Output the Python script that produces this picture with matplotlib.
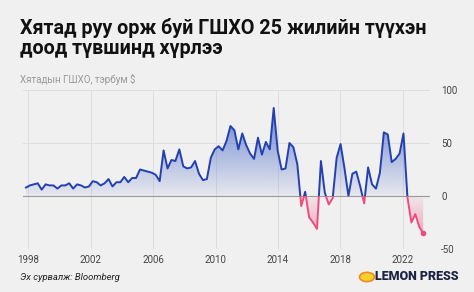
import matplotlib.pyplot as plt
import numpy as np
from matplotlib.patches import Rectangle, Circle
from matplotlib.path import Path
from matplotlib.patches import PathPatch

plt.rcParams['font.family'] = ['Roboto', 'DejaVu Sans']

# quarterly FDI into China, bn $
fdi = [8, 10, 11, 12, 6, 11, 10, 10, 7, 10, 10, 12, 7, 11, 10, 8, 9, 14, 13, 10,
       12, 16, 9, 13, 13, 18, 13, 17, 17, 25, 24, 23, 22, 20, 14, 43, 26, 34, 33, 44,
       28, 26, 27, 33, 21, 15, 16, 36, 44, 47, 43, 52, 66, 62, 44, 59, 48, 40, 35, 55,
       39, 51, 44, 83, 43, 25, 26, 50, 46, 30, -9.5, 4, -20, -25, -31, 33, 3, -8, -2, 36,
       49, 26, 0, 21, 23, 9, -7, 27, 11, 7, 22, 60, 58, 32, 35, 40, 59, -1, -25, -17,
       -29, -35]
start_year = 1997.85
years = start_year + 0.252 * np.arange(len(fdi))
x_ticks = [1998, 2002, 2006, 2010, 2014, 2018, 2022]
y_ticks = [-50, 0, 50, 100]

title = "Хятад руу орж буй ГШХО 25 жилийн түүхэн\nдоод түвшинд хүрлээ"
subtitle = "Хятадын ГШХО, тэрбум $"
source = "Эх сурвалж: Bloomberg"

bg = '#f0f0f0'
blue = '#2340b0'
pink = '#ee4c7c'

fig = plt.figure(figsize=(4.74, 2.92), dpi=100, facecolor=bg)
ax = fig.add_axes([0.0485, 0.147, 0.859, 0.545], facecolor=bg)

x = np.array(years)
y = np.array(fdi, dtype=float)
ax.set_xlim(1997.66, 2023.75)
ax.set_ylim(-50, 100)

# gradient fills
def grad_fill(where, cmap_color, vmin, vmax, alpha_far, alpha_near):
    poly = ax.fill_between(x, y, 0, where=where, interpolate=True, color='none', lw=0)
    n = 256
    vals = np.linspace(vmax, vmin, n)
    rgba = np.zeros((n, 1, 4))
    c = plt.matplotlib.colors.to_rgb(cmap_color)
    rgba[..., 0] = c[0]
    rgba[..., 1] = c[1]
    rgba[..., 2] = c[2]
    a = alpha_near + (alpha_far - alpha_near) * np.abs(vals) / max(abs(vmin), abs(vmax))
    rgba[:, 0, 3] = a
    im = ax.imshow(rgba, extent=[x[0], x[-1], vmin, vmax], aspect='auto',
                   origin='upper', zorder=1, interpolation='bilinear')
    paths = poly.get_paths()
    if paths:
        verts = np.concatenate([p.vertices for p in paths])
        codes = np.concatenate([p.codes if p.codes is not None else
                                np.r_[Path.MOVETO, [Path.LINETO] * (len(p.vertices) - 1)]
                                for p in paths])
        cp = PathPatch(Path(verts, codes), transform=ax.transData, fc='none', ec='none')
        ax.add_patch(cp)
        im.set_clip_path(cp)

grad_fill(y >= 0, '#3a5cc8', 0, 85, 0.75, 0.05)
grad_fill(y <= 0, '#f0507f', -36, 0, 0.45, 0.05)

# line split at zero
top = Rectangle((1990, 0), 40, 200, transform=ax.transData)
bot = Rectangle((1990, -200), 40, 200, transform=ax.transData)
l1, = ax.plot(x, y, color=blue, lw=1.4, zorder=3)
l1.set_clip_path(top)
l2, = ax.plot(x, y, color=pink, lw=1.4, zorder=3)
l2.set_clip_path(bot)
ax.plot(x[-1], y[-1], 'o', color=pink, ms=3, zorder=4)

# grid
for t in x_ticks:
    ax.axvline(t, color='#dedede', lw=0.7, zorder=0)
for t in [100, 50, -50]:
    ax.axhline(t, color='#dedede', lw=0.7, zorder=0)
ax.axhline(0, color='#9a9a9a', lw=0.8, zorder=2)

for s in ax.spines.values():
    s.set_visible(False)
ax.set_xticks(x_ticks)
ax.set_xticklabels([str(t) for t in x_ticks], fontsize=7, color='#444444')
ax.set_yticks(y_ticks)
ax.set_yticklabels([str(t) for t in y_ticks], fontsize=7, color='#444444')
ax.yaxis.tick_right()
ax.tick_params(axis='both', length=0)
ax.tick_params(axis='x', pad=4)
ax.tick_params(axis='y', pad=8)

fig.text(20 / 474, 1 - 18 / 292, title, fontsize=14.2, fontweight='bold', color='#111111',
         va='top', ha='left', linespacing=1.05)
fig.text(20 / 474, 1 - 79 / 292, subtitle, fontsize=7, color='#999999', va='center', ha='left')
fig.text(20 / 474, 1 - 278 / 292, source, fontsize=6.8, style='italic', color='#222222',
         va='center', ha='left')

# logo
fig.patches.append(Circle((367 / 474, 1 - 277 / 292), 7.5 / 474, transform=fig.transFigure,
                          fc='#f7d02a', ec='#f08a24', lw=1.2))
fig.text(375 / 474, 1 - 277 / 292, "LEMON PRESS", fontsize=9, fontweight='heavy',
         color='#1c2445', va='center', ha='left')

fig.savefig('out.png', dpi=100, facecolor=bg)
